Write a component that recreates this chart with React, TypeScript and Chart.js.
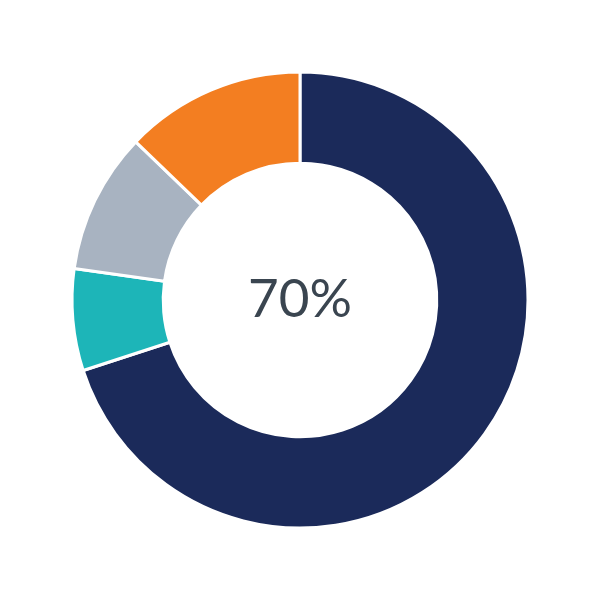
import React, { useEffect, useRef } from "react";
import { Chart, registerables } from "chart.js";

Chart.register(...registerables);

const labels = ["Navy", "Teal", "Gray", "Orange"];
const values = [70, 7.2, 10, 12.8];
const colors = ["#1b2a5a", "#1db5b8", "#a8b3c1", "#f37e21"];
const centerText = "70%";

export default function App() {
  const ref = useRef<HTMLCanvasElement | null>(null);
  useEffect(() => {
    if (!ref.current) return;
    const centerPlugin = {
      id: "centerText",
      afterDraw(chart: any) {
        const { ctx, chartArea } = chart;
        const cx = (chartArea.left + chartArea.right) / 2;
        const cy = (chartArea.top + chartArea.bottom) / 2;
        ctx.save();
        ctx.font = "400 53px Lato";
        ctx.fillStyle = "#3a4550";
        ctx.textAlign = "center";
        ctx.textBaseline = "middle";
        ctx.fillText(centerText, cx, cy);
        ctx.restore();
      },
    };
    const chart = new Chart(ref.current, {
      type: "doughnut",
      data: {
        labels,
        datasets: [
          {
            data: values,
            backgroundColor: colors,
            borderColor: "#ffffff",
            borderWidth: 3,
          },
        ],
      },
      options: {
        animation: false,
        responsive: false,
        radius: 228,
        cutout: "60%",
        plugins: {
          legend: { display: false },
          tooltip: { enabled: false },
        },
      },
      plugins: [centerPlugin],
    });
    return () => chart.destroy();
  }, []);
  return (
    <div style={{ position: "absolute", left: 0, top: 0, width: 600, height: 600 }}>
      <canvas ref={ref} width={600} height={600} style={{ width: 600, height: 600 }} />
    </div>
  );
}
